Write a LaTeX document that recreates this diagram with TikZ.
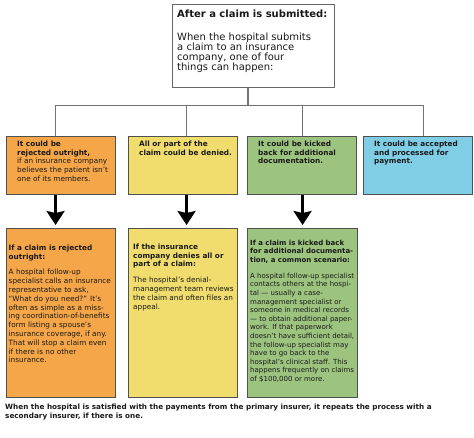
\documentclass[tikz,border=0pt]{standalone}
\usepackage{fontspec}
\setmainfont{DejaVu Sans}
\usetikzlibrary{calc,arrows.meta}
\definecolor{borange}{RGB}{245,166,72}
\definecolor{byellow}{RGB}{241,221,110}
\definecolor{bgreen}{RGB}{157,196,127}
\definecolor{bblue}{RGB}{128,206,230}
\definecolor{bframe}{RGB}{80,80,80}
\definecolor{conn}{RGB}{115,115,115}
\definecolor{txt}{RGB}{25,25,25}
\begin{document}
\begin{tikzpicture}[x=1pt,y=-1pt,
  box/.style={draw=bframe,line width=1.1pt,anchor=north west,inner sep=0pt},
  topbox/.style={draw=conn!90!black,line width=1.4pt,fill=white,anchor=north west,inner sep=0pt},
  small/.style={anchor=north west,inner sep=0pt,align=left,text=txt,font=\fontsize{7.3}{8.8}\selectfont},
  big/.style={anchor=north west,inner sep=0pt,align=left,text=txt,font=\fontsize{10}{10}\selectfont},
  connline/.style={draw=conn,line width=1.5pt},
  bigarrow/.style={draw=black,line width=2.8pt,-{Stealth[length=14pt,width=18pt,inset=2pt]}}
]
\useasboundingbox (0,0) rectangle (474,437);
% top box
\node[topbox,minimum width=162pt,minimum height=83pt] (top) at (172,4) {};
\node[big] (toptxt) at (177,10) {\textbf{After a claim is submitted:}\\[13pt]When the hospital submits\\a claim to an insurance\\company, one of four\\things can happen:};
% row 1
\node[box,fill=borange,minimum width=109pt,minimum height=58pt] (b1) at (6,136) {};
\node[box,fill=byellow,minimum width=109pt,minimum height=58pt] (b2) at (128,136) {};
\node[box,fill=bgreen,minimum width=109pt,minimum height=58pt] (b3) at (247,136) {};
\node[box,fill=bblue,minimum width=109pt,minimum height=58pt] (b4) at (363,136) {};
\node[small] (t1) at (17,140.5) {\textbf{It could be}\\\textbf{rejected outright,}\\if an insurance company\\believes the patient isn’t\\one of its members.};
\node[small] (t2) at (139,140.5) {\textbf{All or part of the}\\\textbf{claim could be denied.}};
\node[small] (t3) at (258,140.5) {\textbf{It could be kicked}\\\textbf{back for additional}\\\textbf{documentation.}};
\node[small] (t4) at (374,140.5) {\textbf{It could be accepted}\\\textbf{and processed for}\\\textbf{payment.}};
% row 2
\node[box,fill=borange,minimum width=109pt,minimum height=169pt] (r1) at (6,228) {};
\node[box,fill=byellow,minimum width=109pt,minimum height=169pt] (r2) at (128,228) {};
\node[box,fill=bgreen,minimum width=110pt,minimum height=169pt] (r3) at (247,228) {};
\node[small] (s1) at (8.5,244.5) {\textbf{If a claim is rejected}\\\textbf{outright:}\\[7pt]A hospital follow-up\\specialist calls an insurance\\representative to ask,\\“What do you need?” It’s\\often as simple as a miss-\\ing coordination-of-benefits\\form listing a spouse’s\\insurance coverage, if any.\\That will stop a claim even\\if there is no other\\insurance.};
\node[small] (s2) at (133,243.5) {\textbf{If the insurance}\\\textbf{company denies all or}\\\textbf{part of a claim:}\\[7pt]The hospital’s denial-\\management team reviews\\the claim and often files an\\appeal.};
\node[small,font=\fontsize{7.0}{8.6}\selectfont] (s3) at (250,239.5) {\textbf{If a claim is kicked back}\\\textbf{for additional documenta-}\\\textbf{tion, a common scenario:}\\[7.5pt]A hospital follow-up specialist\\contacts others at the hospi-\\tal — usually a case-\\management specialist or\\someone in medical records\\— to obtain additional paper-\\work. If that paperwork\\doesn’t have sufficient detail,\\the follow-up specialist may\\have to go back to the\\hospital’s clinical staff. This\\happens frequently on claims\\of \$100,000 or more.};
% bottom
\node[small,font=\fontsize{7.25}{9.5}\selectfont] (foot) at (5,403.5) {\textbf{When the hospital is satisfied with the payments from the primary insurer, it repeats the process with a}\\\textbf{secondary insurer, if there is one.}};
% connectors
\coordinate (ctop) at ($(top.south)+(-5.5,0)$);
\coordinate (bus) at ($(ctop)+(0,17)$);
\coordinate (c1) at ($(b1.north)+(-5.5,0)$);
\coordinate (c2) at ($(b2.north)+(3.5,0)$);
\coordinate (c3) at ($(b3.north)+(0.5,0)$);
\coordinate (c4) at ($(b4.north)+(5.5,0)$);
\draw[connline] (ctop) -- (bus);
\draw[connline] (c1 |- bus) -- (c4 |- bus);
\draw[connline] (c1 |- bus) -- (c1);
\draw[connline] (c2 |- bus) -- (c2);
\draw[connline] (c3 |- bus) -- (c3);
\draw[connline] (c4 |- bus) -- (c4);
\draw[bigarrow] (b1.south -| c1) -- ($(r1.north -| c1)+(0,-3)$);
\draw[bigarrow] (b2.south -| c2) -- ($(r2.north -| c2)+(0,-3)$);
\draw[bigarrow] (b3.south -| c3) -- ($(r3.north -| c3)+(0,-3)$);
\end{tikzpicture}
\end{document}
